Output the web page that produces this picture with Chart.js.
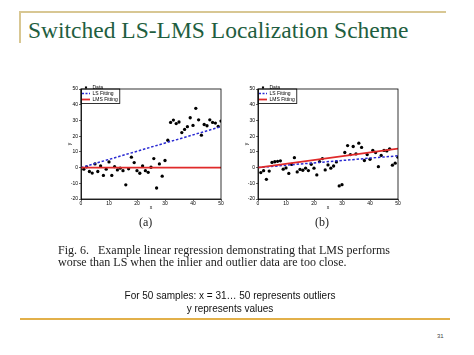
<!DOCTYPE html>
<html>
<head>
<meta charset="utf-8">
<script src="https://cdn.jsdelivr.net/npm/chart.js@4/dist/chart.umd.min.js"></script>
<style>
  html, body { margin: 0; padding: 0; background: #fff; }
  body { width: 474px; height: 355px; position: relative; overflow: hidden; }
  .abs { position: absolute; white-space: nowrap; }
  #title { left: 28px; top: 19px; font-family: "Liberation Serif", serif; font-size: 23.5px; line-height: 1; color: #1f5e40; }
  .rule { position: absolute; }
  .cap { font-family: "Liberation Serif", serif; font-size: 12px; line-height: 11.5px; color: #222; }
  .sub { font-family: "Liberation Serif", serif; font-size: 12px; line-height: 1; color: #222; }
  .note { font-family: "Liberation Sans", Arial, sans-serif; font-size: 10px; line-height: 12.5px; color: #111; text-align: center; }
  canvas { position: absolute; }
</style>
</head>
<body>
<div class="rule" style="left:20px;top:11px;width:426px;height:1.5px;background:#d8c793;"></div>
<div class="rule" style="left:19px;top:11px;width:1.5px;height:32px;background:#d8c793;"></div>
<div id="title" class="abs">Switched LS-LMS Localization Scheme</div>

<canvas id="chartA" width="172" height="132" style="left:55px;top:84px;"></canvas>
<canvas id="chartB" width="172" height="132" style="left:232px;top:84px;"></canvas>

<div class="abs sub" style="left:139px;top:216px;">(a)</div>
<div class="abs sub" style="left:315px;top:216px;">(b)</div>

<div class="abs cap" style="left:58px;top:245px;">Fig. 6.&nbsp;&nbsp;&nbsp;Example linear regression demonstrating that LMS performs<br>worse than LS when the inlier and outlier data are too close.</div>

<div class="abs note" style="left:90px;width:280px;top:290px;">For 50 samples: x = 31… 50 represents outliers<br>y represents values</div>

<div class="rule" style="left:20px;top:318px;width:430px;height:1.5px;background:#e2b04a;"></div>
<div class="abs" style="left:437px;top:333px;font-family:'Liberation Sans',sans-serif;font-size:6px;color:#444;">31</div>

<script>
// ---- data ----
const sampleX = [1,2,3,4,5,6,7,8,9,10,11,12,13,14,15,16,17,18,19,20,21,22,23,24,25,
                 26,27,28,29,30,31,32,33,34,35,36,37,38,39,40,41,42,43,44,45,46,47,48,49,50];
const dataA = [-1, 0.5, -2.5, -3.5, 2.3, -2.5, 1, -5, -1, 3.6, -5, 0.6, -1.5, -0.4, -2, -11, -0.8, 6.6, 3.2, -2,
               -3.6, 1, -2, -3, 0.2, 5.7, -13, 2.3, -5.5, 4.5, 17.4, 28.7, 30.2, 28, 29, 22.3, 24.3, 26, 31.7, 26.8,
               37.7, 30.4, 20.6, 27.4, 26.6, 30.4, 28.7, 28.3, 26.2, 29.6];
const dataB = [-3.2, -2, -7.5, -2.2, 3.3, 3.7, 4, 4.3, -1, -0.2, -3.7, 2, 6.3, -2.8, -1.2, -1.7, -0.4, -1.9, 2.1, -0.4,
               -4.7, 3.8, 5.7, -1.5, 1.7, -0.4, 1, 3.6, -11.7, -10.9, 9.6, 14, 8.3, 13.4, 8.7, 15.5, 12.8, 4.5, 8.3, 5.3,
               11, 9.6, 0.6, 7.7, 10.9, 10.6, 11.9, 1.5, 2.8, 6.6];
const fitX = [0, 50];
const lsA = [0, 26];
const lmsA = [0, 0];
const lsB = [0, 7.5];
const lmsB = [0, 12];
const xTicks = [0, 10, 20, 30, 40, 50];
const yTicks = [-20, -10, 0, 10, 20, 30, 40, 50];
const seriesNames = ['Data', 'LS Fitting', 'LMS Fitting'];

// ---- styles ----
const COL_DATA = '#000000', COL_LS = '#2a2ad2', COL_LMS = '#e02a2a';
const dot = document.createElement('canvas');
dot.width = 4; dot.height = 4;
(function(){ const c = dot.getContext('2d'); c.fillStyle = COL_DATA; c.beginPath(); c.arc(2, 2, 1.2, 0, Math.PI*2); c.fill(); })();

const framePlugin = {
  id: 'frame',
  afterDraw(chart) {
    const {ctx, chartArea: a} = chart;
    ctx.save();
    ctx.strokeStyle = '#000';
    ctx.lineWidth = 0.8;
    ctx.setLineDash([]);
    ctx.strokeRect(a.left, a.top, a.right - a.left, a.bottom - a.top);
    const hb = chart.legend && chart.legend.legendHitBoxes;
    if (hb && hb.length) {
      let r = 0, b = 0;
      hb.forEach(h => { r = Math.max(r, h.left + h.width); b = Math.max(b, h.top + h.height); });
      ctx.strokeRect(a.left, a.top, r + 2 - a.left, b + 1.5 - a.top);
    }
    ctx.restore();
  }
};

Chart.defaults.font.family = "'Liberation Sans', Arial, sans-serif";
Chart.defaults.color = '#000';

function makeChart(id, ys, ls, lms) {
  return new Chart(document.getElementById(id), {
    type: 'scatter',
    data: {
      datasets: [
        { label: seriesNames[0], data: sampleX.map((x, i) => ({x, y: ys[i]})),
          pointStyle: 'circle', pointRadius: 1.65, backgroundColor: COL_DATA, borderColor: COL_DATA, borderWidth: 0, order: 3 },
        { label: seriesNames[1], type: 'line', data: fitX.map((x, i) => ({x, y: ls[i]})),
          borderColor: COL_LS, backgroundColor: COL_LS, borderWidth: 1.5, borderDash: [2.5, 1.8], pointRadius: 0, fill: false, order: 2 },
        { label: seriesNames[2], type: 'line', data: fitX.map((x, i) => ({x, y: lms[i]})),
          borderColor: COL_LMS, backgroundColor: COL_LMS, borderWidth: 1.8, pointRadius: 0, fill: false, order: 1 }
      ]
    },
    options: {
      responsive: false, animation: false, devicePixelRatio: 1,
      layout: { padding: { top: 5, right: 6, left: 0, bottom: 0 } },
      plugins: {
        tooltip: { enabled: false },
        legend: {
          position: 'chartArea', align: 'start',
          labels: {
            usePointStyle: true, pointStyleWidth: 8, boxHeight: 5, padding: 1,
            font: { size: 5 },
            generateLabels(chart) {
              const ds = chart.data.datasets;
              return [
                { text: ds[0].label, pointStyle: dot, fillStyle: COL_DATA, strokeStyle: COL_DATA, lineWidth: 0, datasetIndex: 0, fontColor: '#000' },
                { text: ds[1].label, pointStyle: 'line', fillStyle: COL_LS, strokeStyle: COL_LS, lineWidth: 1.5, lineDash: [2, 1.5], datasetIndex: 1, fontColor: '#000' },
                { text: ds[2].label, pointStyle: 'line', fillStyle: COL_LMS, strokeStyle: COL_LMS, lineWidth: 1.8, lineDash: [], datasetIndex: 2, fontColor: '#000' }
              ];
            }
          }
        }
      },
      scales: {
        x: {
          type: 'linear', min: 0, max: 50,
          afterBuildTicks(s) { s.ticks = xTicks.map(v => ({value: v})); },
          afterFit(s) { s.height = 17; },
          ticks: { font: { size: 5 }, padding: 0, maxRotation: 0, autoSkip: false },
          grid: { drawOnChartArea: false, drawTicks: true, tickLength: 2, color: '#000', lineWidth: 0.6 },
          border: { display: true, color: '#000', width: 0.8 },
          title: { display: true, text: 'x', font: { size: 5 }, padding: { top: 0, bottom: 5 } }
        },
        y: {
          type: 'linear', min: -20, max: 50,
          afterBuildTicks(s) { s.ticks = yTicks.map(v => ({value: v})); },
          afterFit(s) { s.width = 26; },
          ticks: { font: { size: 5 }, padding: 1, autoSkip: false },
          grid: { drawOnChartArea: false, drawTicks: true, tickLength: 2, color: '#000', lineWidth: 0.6 },
          border: { display: true, color: '#000', width: 0.8 },
          title: { display: true, text: 'y', font: { size: 5 }, padding: { top: 12, bottom: 0 } }
        }
      }
    },
    plugins: [framePlugin]
  });
}

makeChart('chartA', dataA, lsA, lmsA);
makeChart('chartB', dataB, lsB, lmsB);
</script>
</body>
</html>
